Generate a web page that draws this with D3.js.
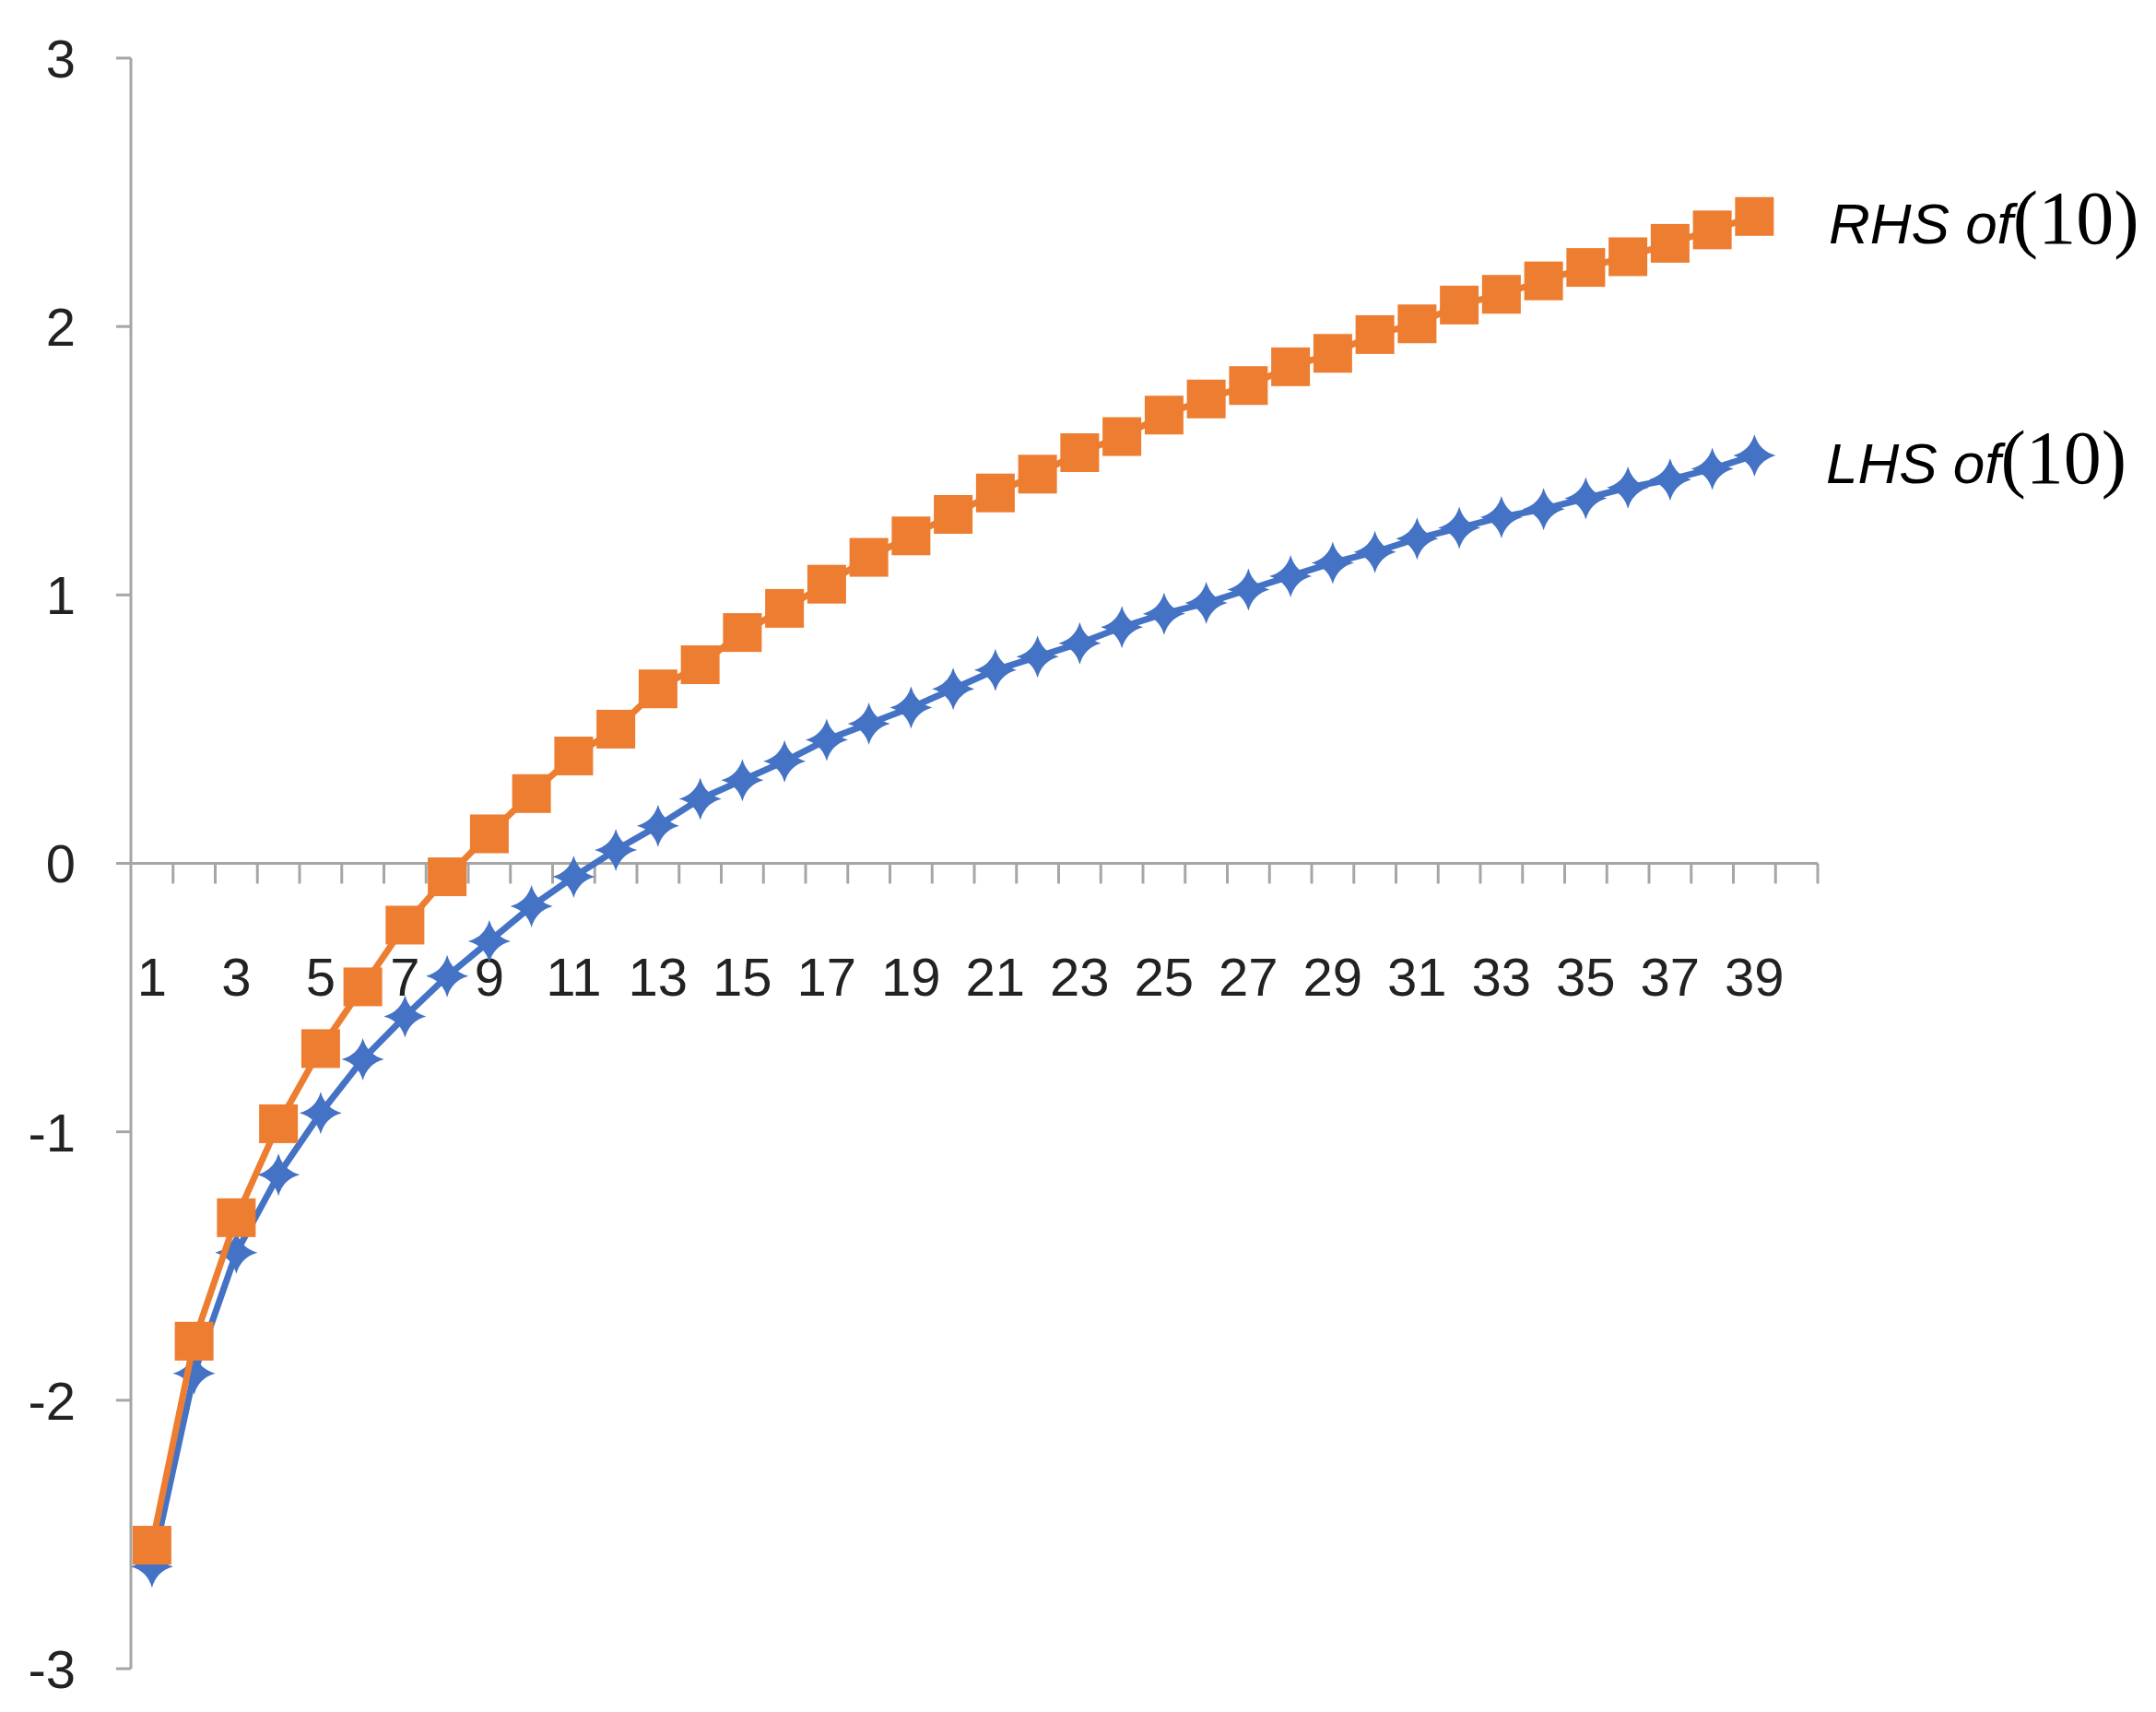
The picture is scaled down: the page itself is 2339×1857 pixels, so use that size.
<!DOCTYPE html>
<html><head><meta charset="utf-8">
<script src="https://cdn.jsdelivr.net/npm/d3@7/dist/d3.min.js"></script>
<style>body{margin:0;background:#fff}</style></head>
<body><svg id="c" width="2339" height="1857"></svg>
<script>
const categories = d3.range(1, 41);
const rhs = [-2.54,-1.78,-1.32,-0.97,-0.69,-0.46,-0.23,-0.05,0.11,0.26,0.40,0.50,0.65,0.74,0.86,0.95,1.04,1.14,1.22,1.30,1.38,1.45,1.53,1.59,1.67,1.73,1.78,1.85,1.90,1.97,2.01,2.08,2.12,2.17,2.22,2.26,2.31,2.36,2.41];
const lhs = [-2.62,-1.90,-1.45,-1.16,-0.93,-0.73,-0.57,-0.42,-0.29,-0.16,-0.05,0.05,0.14,0.24,0.31,0.38,0.46,0.52,0.58,0.65,0.72,0.77,0.82,0.88,0.93,0.97,1.02,1.07,1.12,1.16,1.21,1.25,1.29,1.32,1.36,1.40,1.43,1.47,1.52];
const yTicks = [-3,-2,-1,0,1,2,3];
const xTickLabels = categories.filter(d => d % 2 === 1);

const svg = d3.select("#c");
const font = "'Liberation Sans Narrow','Liberation Sans',sans-serif";
const x = d3.scaleBand().domain(categories).range([142, 1972]);
const y = d3.scaleLinear().domain([-3, 3]).range([1810, 63]);
const axisCol = "#a6a6a6";

svg.append("line").attr("x1",142).attr("x2",142).attr("y1",y(3)).attr("y2",y(-3)).attr("stroke",axisCol).attr("stroke-width",3);
yTicks.forEach(t=>{
  svg.append("line").attr("x1",126).attr("x2",142).attr("y1",y(t)).attr("y2",y(t)).attr("stroke",axisCol).attr("stroke-width",3);
  svg.append("text").attr("x",82).attr("y",y(t)).attr("dy","0.36em").attr("text-anchor","end")
    .attr("font-family",font).attr("font-size",58).attr("fill","#222").text(t);
});
svg.append("line").attr("x1",142).attr("x2",1972).attr("y1",y(0)).attr("y2",y(0)).attr("stroke",axisCol).attr("stroke-width",3);
categories.forEach(c=>{
  const xx = x(c)+x.bandwidth();
  svg.append("line").attr("x1",xx).attr("x2",xx).attr("y1",y(0)).attr("y2",y(0)+22).attr("stroke",axisCol).attr("stroke-width",3);
});
xTickLabels.forEach(c=>{
  svg.append("text").attr("x",x(c)+x.bandwidth()/2).attr("y",1059).attr("dy","0.36em").attr("text-anchor","middle")
    .attr("font-family",font).attr("font-size",58).attr("fill","#222").text(c);
});

const cx = i => x(categories[i]) + x.bandwidth()/2;
const line = d3.line().x((d,i)=>cx(i)).y(d=>y(d));

svg.append("path").datum(lhs).attr("d",line).attr("fill","none").attr("stroke","#4472c4").attr("stroke-width",7);
const star = "M0,-23 Q5,-5 23,0 Q5,5 0,23 Q-5,5 -23,0 Q-5,-5 0,-23Z";
svg.selectAll(".lm").data(lhs).enter().append("path")
  .attr("transform",(d,i)=>`translate(${cx(i)},${y(d)})`).attr("d",star).attr("fill","#4472c4");

svg.append("path").datum(rhs).attr("d",line).attr("fill","none").attr("stroke","#ed7d31").attr("stroke-width",7);
svg.selectAll(".rm").data(rhs).enter().append("rect")
  .attr("x",(d,i)=>cx(i)-21).attr("y",d=>y(d)-21).attr("width",42).attr("height",42).attr("fill","#ed7d31");

function label(xp, yp, txt){
  const t = svg.append("text").attr("x",xp).attr("y",yp).attr("fill","#000");
  t.append("tspan").attr("font-family",font).attr("font-style","italic").attr("font-size",62).text(txt);
  t.append("tspan").attr("font-family","'Liberation Serif',serif").attr("font-size",82).text("(10)");
}
label(1984, 264, "RHS of");
label(1981, 524, "LHS of");
</script></body></html>
